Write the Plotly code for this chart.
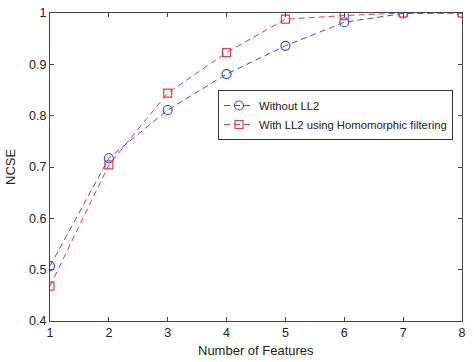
import plotly.graph_objects as go

features = [1, 2, 3, 4, 5, 6, 7, 8]
without_ll2 = [0.507, 0.717, 0.811, 0.881, 0.936, 0.982, 0.999, 1.0]
with_ll2 = [0.468, 0.704, 0.844, 0.923, 0.988, 0.995, 1.0, 1.0]
yticks = [0.4, 0.5, 0.6, 0.7, 0.8, 0.9, 1]
ytick_labels = ["0.4", "0.5", "0.6", "0.7", "0.8", "0.9", "1"]

blue = "#3a4fe0"
red = "#e23a50"
fam = "Liberation Sans, Arial, sans-serif"

W, H = 474, 362
ML, MR, MT, MB = 50, 12, 13, 41
pw = W - ML - MR
ph = H - MT - MB

fig = go.Figure()
fig.add_trace(go.Scatter(
    x=features, y=without_ll2, name="Without LL2", mode="lines+markers",
    line=dict(color=blue, width=1, dash="6px,4px"),
    marker=dict(symbol="circle-open", size=9, color=blue, line=dict(width=1.2, color=blue)),
))
fig.add_trace(go.Scatter(
    x=features, y=with_ll2, name="With LL2 using Homomorphic filtering", mode="lines+markers",
    line=dict(color=red, width=1, dash="6px,4px"),
    marker=dict(symbol="square-open", size=8, color=red, line=dict(width=1.2, color=red)),
))

axis_common = dict(
    showgrid=False, zeroline=False, showline=True, linecolor="#444", linewidth=1,
    mirror="ticks", ticks="inside", ticklen=4, tickcolor="#444", automargin=False,
    tickfont=dict(family=fam, size=12.5, color="#222"),
)

fig.update_layout(
    width=W, height=H,
    margin=dict(l=ML, r=MR, t=MT, b=MB, autoexpand=False),
    paper_bgcolor="white", plot_bgcolor="white",
    font=dict(family=fam, size=12, color="#222"),
    xaxis=dict(range=[1, 8], tickvals=features, **axis_common),
    yaxis=dict(range=[0.4, 1], tickvals=yticks, ticktext=ytick_labels, **axis_common),
    legend=dict(x=(218 - ML) / pw, y=(321 - 90) / ph, xanchor="left", yanchor="top",
                bgcolor="white", bordercolor="#333", borderwidth=1,
                font=dict(size=11.3), itemwidth=30, tracegroupgap=0),
    showlegend=True,
    annotations=[
        dict(text="Number of Features", x=0.5, y=(321 - 350) / ph, xref="paper", yref="paper",
             xanchor="center", yanchor="middle",
             showarrow=False, font=dict(size=13, family=fam, color="#222")),
        dict(text="NCSE", x=(10 - ML) / pw, y=0.5, xref="paper", yref="paper", textangle=-90,
             xanchor="center", yanchor="middle",
             showarrow=False, font=dict(size=13, family=fam, color="#222")),
    ],
)

fig.write_html("out.html", config={"displayModeBar": False},
               post_script="document.body.style.margin='0';")
